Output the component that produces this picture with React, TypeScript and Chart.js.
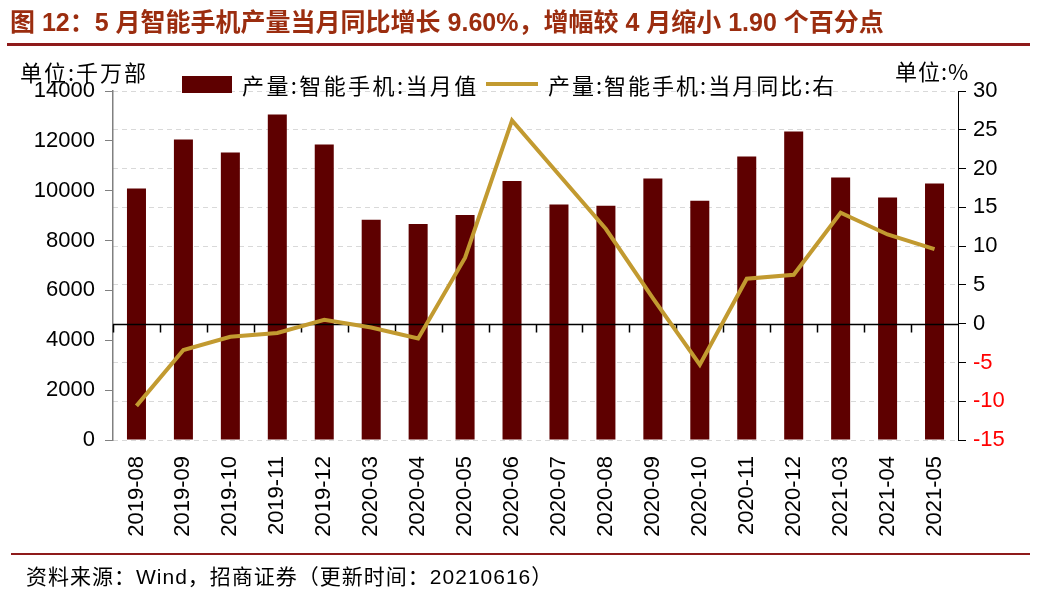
import React, { useEffect, useRef } from "react";
import { Chart, registerables } from "chart.js";

Chart.register(...registerables);

// Monthly categories
const months = [
  "2019-08", "2019-09", "2019-10", "2019-11", "2019-12",
  "2020-03", "2020-04", "2020-05", "2020-06", "2020-07",
  "2020-08", "2020-09", "2020-10", "2020-11", "2020-12",
  "2021-03", "2021-04", "2021-05",
];

// Smartphone output, monthly value (10k units)
const outputValues = [
  10084, 12053, 11531, 13057, 11852,
  8839, 8664, 9025, 10389, 9442,
  9401, 10486, 9602, 11370, 12374,
  10526, 9723, 10285,
];

// Smartphone output, year-on-year change (%)
const yoyValues = [
  -10.6, -3.4, -1.7, -1.2, 0.5,
  -0.5, -1.9, 8.5, 26.2, 19.2,
  12.2, 3.3, -5.3, 5.8, 6.3,
  14.3, 11.5, 9.6,
];

// Axis ranges and steps
const leftAxisRange = [0, 14000];
const leftAxisStep = 2000;
const rightAxisRange = [-15, 30];
const rightAxisStep = 5;

const seriesNames = ["产量:智能手机:当月值", "产量:智能手机:当月同比:右"];

const BAR_COLOR = "#5E0000";
const LINE_COLOR = "#C29A30";
const RULE_COLOR = "#8E1A1A";
const TITLE_COLOR = "#9B2D0F";
const TICK_FONT = { family: "'Liberation Sans', Arial, sans-serif", size: 22 };
const CJK_FONT = "'Noto Sans CJK SC', sans-serif";

// Black zero line of the right axis with category-boundary ticks,
// painted over the bars and under the line series.
const zeroLinePlugin = {
  id: "zeroLine",
  afterDatasetDraw(chart: any, args: any) {
    if (args.meta.type !== "bar") return;
    const { ctx, chartArea, scales } = chart;
    const xs = scales.x;
    const y0 = Math.round(scales.y1.getPixelForValue(0)) + 0.5;
    const half = (xs.getPixelForValue(1) - xs.getPixelForValue(0)) / 2;
    ctx.save();
    ctx.strokeStyle = "#000";
    ctx.lineWidth = 1.5;
    ctx.beginPath();
    ctx.moveTo(chartArea.left, y0);
    ctx.lineTo(chartArea.right, y0);
    for (let i = 0; i < months.length; i++) {
      const bx = Math.round(xs.getPixelForValue(i) - half) + 0.5;
      ctx.moveTo(bx, y0);
      ctx.lineTo(bx, y0 + 8);
    }
    ctx.stroke();
    ctx.restore();
  },
};

export default function App() {
  const canvasRef = useRef<HTMLCanvasElement>(null);

  useEffect(() => {
    if (!canvasRef.current) return;
    const chart = new Chart(canvasRef.current, {
      type: "bar",
      data: {
        labels: months,
        datasets: [
          {
            type: "line",
            label: seriesNames[1],
            data: yoyValues,
            yAxisID: "y1",
            borderColor: LINE_COLOR,
            backgroundColor: LINE_COLOR,
            borderWidth: 4,
            pointRadius: 0,
            tension: 0,
            order: 0,
          },
          {
            type: "bar",
            label: seriesNames[0],
            data: outputValues,
            yAxisID: "y",
            backgroundColor: BAR_COLOR,
            categoryPercentage: 1,
            barPercentage: 0.405,
            order: 1,
          },
        ],
      },
      options: {
        animation: false,
        responsive: false,
        devicePixelRatio: 1,
        layout: { padding: { top: 91, bottom: 51, left: 0, right: 0 } },
        plugins: {
          legend: { display: false },
          tooltip: { enabled: false },
        },
        scales: {
          x: {
            offset: true,
            grid: { display: false, drawTicks: false },
            border: { display: false },
            ticks: {
              autoSkip: false,
              minRotation: 90,
              maxRotation: 90,
              padding: 16,
              color: "#000",
              font: TICK_FONT,
            },
            afterFit: (s: any) => {
              s.height = 110;
            },
          },
          y: {
            position: "left",
            min: leftAxisRange[0],
            max: leftAxisRange[1],
            ticks: {
              stepSize: leftAxisStep,
              padding: 10,
              color: "#000",
              font: TICK_FONT,
              callback: (v: any) => String(v),
            },
            grid: { drawOnChartArea: false, tickLength: 8, color: "#808080" },
            border: { color: "#808080", width: 1.5 },
            afterFit: (s: any) => {
              s.width = 113;
            },
          },
          y1: {
            position: "right",
            min: rightAxisRange[0],
            max: rightAxisRange[1],
            ticks: {
              stepSize: rightAxisStep,
              padding: 7,
              color: (c: any) => (c.tick && c.tick.value < 0 ? "#FF0000" : "#000"),
              font: TICK_FONT,
              callback: (v: any) => String(v),
            },
            grid: {
              color: (c: any) => (c.tick && c.tick.value === 0 ? "rgba(0,0,0,0)" : "#D9D9D9"),
              tickColor: "#000",
              tickLength: 8,
              lineWidth: 1,
            },
            border: { color: "#000", width: 1, dash: [5, 4] },
            afterFit: (s: any) => {
              s.width = 79;
            },
          },
        },
      },
      plugins: [zeroLinePlugin],
    } as any);
    return () => chart.destroy();
  }, []);

  const abs = (style: React.CSSProperties): React.CSSProperties => ({
    position: "absolute",
    whiteSpace: "nowrap",
    ...style,
  });

  return (
    <div
      style={{
        position: "absolute",
        left: 0,
        top: 0,
        width: 1037,
        height: 601,
        background: "#fff",
        overflow: "hidden",
      }}
    >
      <canvas
        ref={canvasRef}
        width={1037}
        height={601}
        style={{ position: "absolute", left: 0, top: 0, width: 1037, height: 601 }}
      />
      <div
        style={abs({
          left: 10,
          top: 7,
          lineHeight: "30px",
          fontSize: 25,
          fontWeight: "bold",
          color: TITLE_COLOR,
          fontFamily: "'Liberation Sans', Arial, " + CJK_FONT,
        })}
      >
        图 12：5 月智能手机产量当月同比增长 9.60%，增幅较 4 月缩小 1.90 个百分点
      </div>
      <div style={abs({ left: 7, top: 43, width: 1023, height: 3, background: RULE_COLOR })} />
      <div
        style={abs({
          left: 20,
          top: 58,
          lineHeight: "26px",
          fontSize: 22,
          letterSpacing: 2,
          color: "#000",
          fontFamily: CJK_FONT,
        })}
      >
        单位:千万部
      </div>
      <div
        style={abs({
          left: 895,
          top: 57,
          lineHeight: "26px",
          fontSize: 22,
          letterSpacing: 1,
          color: "#000",
          fontFamily: CJK_FONT,
        })}
      >
        单位:%
      </div>
      <div style={abs({ left: 182, top: 76, width: 50, height: 17, background: BAR_COLOR })} />
      <div
        style={abs({
          left: 242,
          top: 71,
          lineHeight: "26px",
          fontSize: 22,
          letterSpacing: 2.4,
          color: "#000",
          fontFamily: CJK_FONT,
        })}
      >
        {seriesNames[0]}
      </div>
      <div style={abs({ left: 486, top: 82, width: 52, height: 4, background: LINE_COLOR })} />
      <div
        style={abs({
          left: 548,
          top: 71,
          lineHeight: "26px",
          fontSize: 22,
          letterSpacing: 2,
          color: "#000",
          fontFamily: CJK_FONT,
        })}
      >
        {seriesNames[1]}
      </div>
      <div style={abs({ left: 11, top: 553, width: 1019, height: 2, background: RULE_COLOR })} />
      <div
        style={abs({
          left: 26,
          top: 564,
          lineHeight: "26px",
          fontSize: 21,
          letterSpacing: 1,
          color: "#000",
          fontFamily: "'Liberation Sans', Arial, " + CJK_FONT,
        })}
      >
        资料来源：Wind，招商证券（更新时间：20210616）
      </div>
    </div>
  );
}
